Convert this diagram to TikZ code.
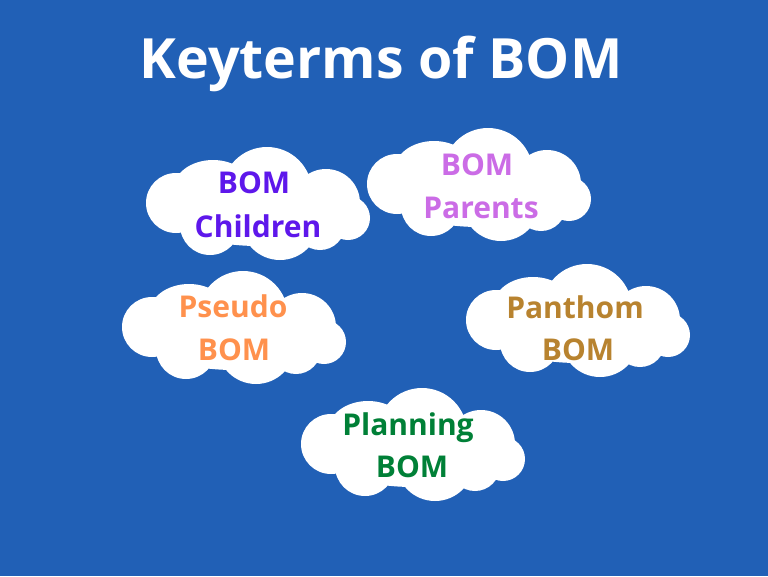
\documentclass[tikz,border=0pt]{standalone}
\usepackage{fontspec}
\setmainfont{Open Sans}
\definecolor{bg}{RGB}{33,96,182}
\definecolor{cChildren}{RGB}{94,23,235}
\definecolor{cParents}{RGB}{203,108,230}
\definecolor{cPseudo}{RGB}{255,145,77}
\definecolor{cPanthom}{RGB}{184,131,47}
\definecolor{cPlanning}{RGB}{0,128,55}
\tikzset{
  cloudpic/.pic={
    \fill[white]
      (-82,0) circle[radius=30pt]
      (-45,-13) ellipse[x radius=40pt,y radius=30pt]
      (9,-11) circle[radius=45pt]
      (68,0) circle[radius=34pt]
      (90,15) circle[radius=22pt]
      (62,22) circle[radius=25pt]
      (22,18) circle[radius=39pt]
      (-48,22) circle[radius=30pt]
      (0,5) ellipse[x radius=95pt,y radius=38pt];
  },
  lbl/.style={anchor=base, inner sep=0pt, font=\fontsize{30}{36}\selectfont\bfseries},
  ttl/.style={anchor=base, inner sep=0pt, text=white, font=\fontsize{55.5}{62}\selectfont\bfseries},
}
\begin{document}
\begin{tikzpicture}[x=1pt,y=-1pt]
\fill[bg] (0,0) rectangle (768,576);
\useasboundingbox (0,0) rectangle (768,576);
\node[ttl] (title) at (381,78) {Keyterms of BOM};
% clouds
\pic (cl1) at (258,203) {cloudpic};
\pic (cl2) at (479,184) {cloudpic};
\pic (cl3) at (234,327) {cloudpic};
\pic (cl4) at (578,320) {cloudpic};
\pic (cl5) at (413,444) {cloudpic};
% labels
\node[lbl, text=cChildren] (t1a) at (254,193) {BOM};
\node[lbl, text=cChildren] (t1b) at (258,237) {Children};
\node[lbl, text=cParents] (t2a) at (477,175) {BOM};
\node[lbl, text=cParents] (t2b) at (481,218) {Parents};
\node[lbl, text=cPseudo] (t3a) at (233,317) {Pseudo};
\node[lbl, text=cPseudo] (t3b) at (234,360) {BOM};
\node[lbl, text=cPanthom] (t4a) at (575,318) {Panthom};
\node[lbl, text=cPanthom] (t4b) at (578,360) {BOM};
\node[lbl, text=cPlanning] (t5a) at (408,435) {Planning};
\node[lbl, text=cPlanning] (t5b) at (412,477) {BOM};
\end{tikzpicture}
\end{document}
